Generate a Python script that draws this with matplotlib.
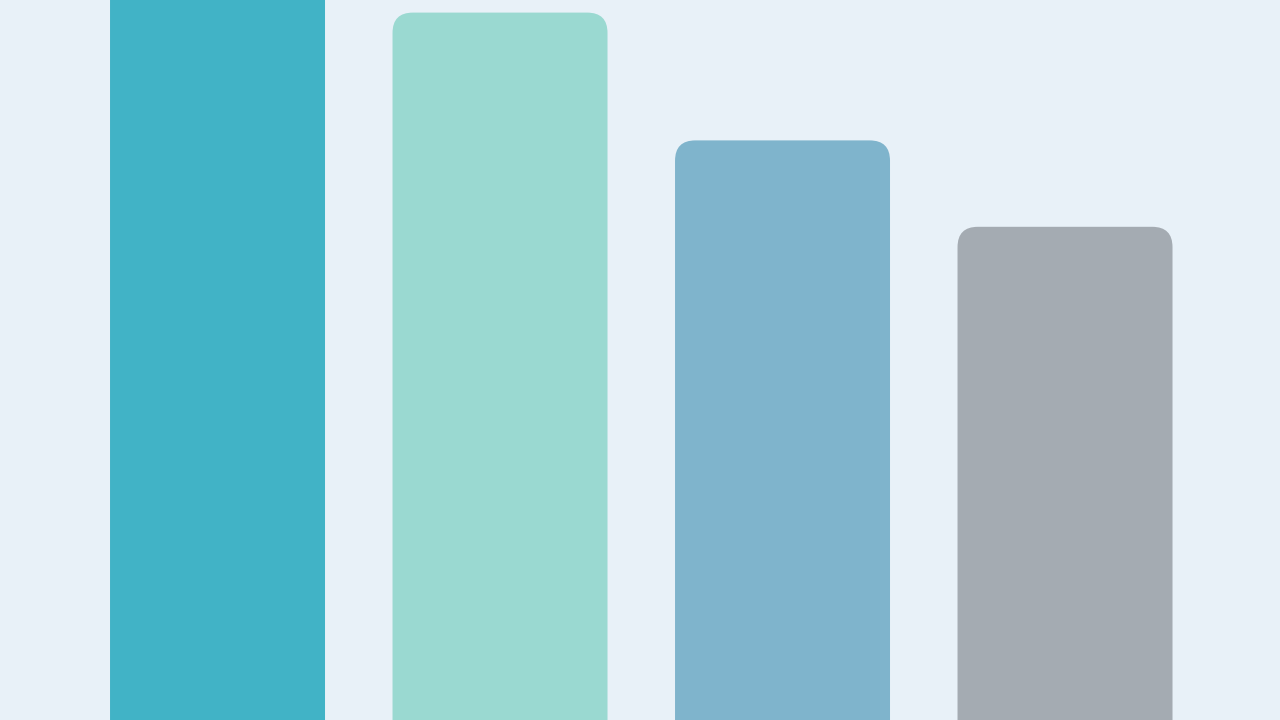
import matplotlib
matplotlib.use("Agg")
import matplotlib.pyplot as plt
from matplotlib.patches import FancyBboxPatch

categories = ["A", "B", "C", "D"]
values = [106.0, 98.6, 84.4, 74.8]
colors = ["#41b3c6", "#9ad9d1", "#7fb4cc", "#a4abb2"]

bar_width = 0.761
radius = 0.072         # rounding in x units
y_per_x = 282.5 / 9.0  # data-unit aspect (px per x unit / px per y unit)

fig = plt.figure(figsize=(12.8, 7.2), dpi=100)
fig.patch.set_facecolor("#e8f1f8")
ax = fig.add_axes([0, 0, 1, 1])
ax.set_facecolor("#e8f1f8")

for i, (val, col) in enumerate(zip(values, colors)):
  box = FancyBboxPatch((i - bar_width / 2, 0), bar_width, val,
                       boxstyle="round,pad=0,rounding_size={}".format(radius),
                       mutation_aspect=y_per_x, facecolor=col, edgecolor="none")
  ax.add_patch(box)

ax.set_xlim(-0.770, 3.761)
ax.set_ylim(20, 100)
ax.axis("off")

fig.savefig("out.png", dpi=100, facecolor=fig.get_facecolor())
